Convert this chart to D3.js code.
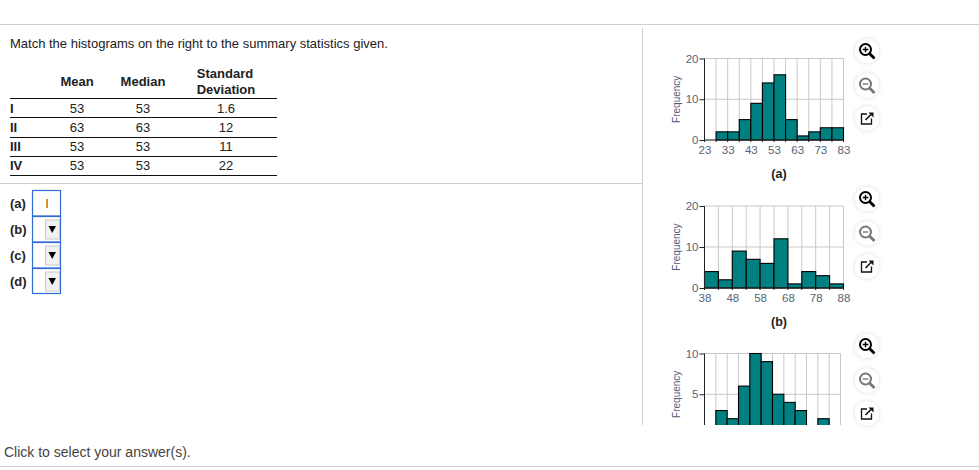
<!DOCTYPE html>
<html><head><meta charset="utf-8">
<script src="https://cdn.jsdelivr.net/npm/d3@7/dist/d3.min.js"></script>
<style>html,body{margin:0;padding:0;background:#fff;overflow:hidden}svg{display:block;font-family:"Liberation Sans",Arial,sans-serif}</style>
</head><body><svg id="c" width="979" height="470"></svg>
<script>
const rowLabels=["I","II","III","IV"];
const means=[53,63,53,53];
const medians=[53,63,53,53];
const stdevs=["1.6","12","11","22"];
const partLabels=["(a)","(b)","(c)","(d)"];
const answers=["I","","",""];
const aStart=23, aValues=[0,2,2,5,9,14,16,5,1,2,3,3], aTicks=[23,33,43,53,63,73,83], aYTicks=[0,10,20];
const bStart=38, bValues=[4,2,9,7,6,12,1,4,3,1], bTicks=[38,48,58,68,78,88], bYTicks=[0,10,20];
const cStart=0, cValues=[0,3,2,6,10,9,5,4,3,0,2,0], cYTicks=[5,10];
const svg=d3.select("#c");
const defs=svg.append("defs");
const fl=defs.append("filter").attr("id","sh").attr("x","-40%").attr("y","-40%").attr("width","180%").attr("height","180%");
fl.append("feDropShadow").attr("dx",0).attr("dy",0).attr("stdDeviation",2).attr("flood-color","#000").attr("flood-opacity",.16);
defs.append("clipPath").attr("id","clipC").append("rect").attr("x",660).attr("y",340).attr("width",230).attr("height",85);
const rule=(x1,y1,x2,y2,c,w=1)=>svg.append("line").attr("x1",x1).attr("y1",y1).attr("x2",x2).attr("y2",y2).attr("stroke",c).attr("stroke-width",w);
const text=(x,y,s,o={})=>svg.append("text").attr("x",x).attr("y",y).text(s).attr("font-size",o.size||13).attr("fill",o.fill||"#222")
  .attr("font-weight",o.bold?"bold":"normal").attr("text-anchor",o.anchor||"start");
// frame
rule(0,24.5,979,24.5,"#ccd0d6"); rule(0,466.5,979,466.5,"#ccd0d6"); rule(642.5,28,642.5,425,"#ccd0d6"); rule(0,183.5,642,183.5,"#ccd0d6");
text(10,48,"Match the histograms on the right to the summary statistics given.");
text(4,457,"Click to select your answer(s).",{size:14,fill:"#444"});
// table
const colX=[77,143,226];
const rowY=[113,132,151,170], ruleY=[98.5,117.5,137.5,156.5,175.5];
text(colX[0],86,"Mean",{bold:true,anchor:"middle"});
text(colX[1],86,"Median",{bold:true,anchor:"middle"});
text(colX[2]-1,78,"Standard",{bold:true,anchor:"middle"});
text(colX[2],94,"Deviation",{bold:true,anchor:"middle"});
ruleY.forEach(y=>rule(10,y,277,y,"#111",1.2));
rowLabels.forEach((r,i)=>{
  text(10,rowY[i],r,{bold:true,size:13});
  text(colX[0],rowY[i],means[i],{anchor:"middle"});
  text(colX[1],rowY[i],medians[i],{anchor:"middle"});
  text(colX[2],rowY[i],stdevs[i],{anchor:"middle"});
});
// answers
partLabels.forEach((p,i)=>{
  const y=191+i*26;
  text(10,y+17,p,{bold:true});
  svg.append("rect").attr("x",32.5).attr("y",y-.5).attr("width",28).attr("height",i==3?25:25.5).attr("fill","#fff").attr("stroke","#2f6bd0").attr("stroke-width",1.2);
  if(answers[i]) text(47,y+17,answers[i],{anchor:"middle",fill:"#a5540f",size:13});
  else{
    svg.append("rect").attr("x",45.5).attr("y",y+3).attr("width",14).attr("height",19).attr("fill","#f1f1f1").attr("stroke","#c8c8c8");
    svg.append("path").attr("d",d3.line()([[48.5,y+9],[56,y+9],[52.2,y+16]])+"Z").attr("fill","#000");
  }
});
// histograms
function hist(o){
  const bins=o.values.length, x=d3.scaleLinear().domain([o.start,o.start+bins*5]).range([o.x0,o.x1]);
  const y=d3.scaleLinear().domain([0,o.ymax]).range([o.y0,o.yt]);
  const g=svg.append("g"); if(o.clip) g.attr("clip-path","url(#clipC)");
  d3.range(bins+1).forEach(i=>g.append("line").attr("x1",x(o.start+i*5)).attr("x2",x(o.start+i*5)).attr("y1",o.yt).attr("y2",o.y0).attr("stroke","#c8c8c8"));
  o.yTicks.forEach(t=>g.append("line").attr("x1",o.x0).attr("x2",o.x1).attr("y1",y(t)).attr("y2",y(t)).attr("stroke","#c8c8c8"));
  g.selectAll("rect.b").data(o.values.map((v,i)=>({v,i})).filter(d=>d.v>0)).join("rect").attr("class","b")
    .attr("x",d=>x(o.start+d.i*5)).attr("width",d=>x(o.start+(d.i+1)*5)-x(o.start+d.i*5))
    .attr("y",d=>y(d.v)).attr("height",d=>o.y0-y(d.v)).attr("fill","#008080").attr("stroke","#000").attr("stroke-width",1.1);
  const ya=d3.axisLeft(y).tickValues(o.yTicks).tickSize(5).tickPadding(1).tickFormat(d3.format("d"));
  const yg=g.append("g").attr("transform",`translate(${o.x0},0)`).call(ya);
  yg.select(".domain").attr("stroke","#222").attr("d",`M0,${o.yt}V${o.y0}`);
  yg.selectAll("line").attr("stroke","#222");
  yg.selectAll("text").attr("fill","#556478").attr("font-size",11.5).attr("font-family","inherit");
  if(o.xTicks){
    const xa=d3.axisBottom(x).tickValues(o.xTicks).tickSize(0).tickPadding(6).tickFormat(d3.format("d"));
    const xg=g.append("g").attr("transform",`translate(0,${o.y0})`).call(xa);
    xg.select(".domain").attr("stroke","#222").attr("d",`M${o.x0},0H${o.x1}`);
    xg.selectAll("text").attr("fill","#556478").attr("font-size",11.5).attr("font-family","inherit");
    g.append("g").attr("transform",`translate(0,${o.y0})`).selectAll("line").data(d3.range(bins+1)).join("line")
      .attr("x1",i=>x(o.start+i*5)).attr("x2",i=>x(o.start+i*5)).attr("y1",0).attr("y2",2).attr("stroke","#222");
    text((o.x0+o.x1)/2+5,o.y0+38,o.label,{bold:true,size:12.5,anchor:"middle"});
  }
  const cy=(o.yt+Math.min(o.y0,o.clip?435:o.y0))/2;
  svg.append("text").attr("transform",`translate(680,${cy}) rotate(-90)`).attr("text-anchor","middle").attr("font-size",10).attr("fill","#5a5a78").text("Frequency");
}
hist({start:aStart,values:aValues,xTicks:aTicks,yTicks:aYTicks,ymax:20,x0:704.5,x1:843.5,y0:140,yt:58.5,label:"(a)"});
hist({start:bStart,values:bValues,xTicks:bTicks,yTicks:bYTicks,ymax:20,x0:704.5,x1:843.5,y0:288,yt:206,label:"(b)"});
hist({start:cStart,values:cValues,yTicks:cYTicks,ymax:10,x0:704.5,x1:840.5,y0:435,yt:353.5,clip:true});
// icons
function icons(x,y0){
  [["#000","+",0],["#777","-",34.5],["#000","e",67.5]].forEach(([c,k,dy])=>{
    const g=svg.append("g").attr("transform",`translate(${x},${y0+dy})`);
    g.append("circle").attr("r",12).attr("fill","#fff").attr("filter","url(#sh)");
    if(k==="e"){
      g.append("path").attr("d","M0,-4.5H-5.5V5.5H4.5V0").attr("fill","none").attr("stroke","#111").attr("stroke-width",1.3);
      g.append("path").attr("d","M-1.5,1.5L4,-4").attr("stroke","#111").attr("stroke-width",1.6);
      g.append("path").attr("d","M1.5,-6H6.5V-1Z").attr("fill","#111");
    }else{
      g.append("circle").attr("cx",-1.5).attr("cy",-1.5).attr("r",5.5).attr("fill","none").attr("stroke",c).attr("stroke-width",2);
      g.append("path").attr("d","M2.5,2.5L7.5,7.5").attr("stroke",c).attr("stroke-width",2.8);
      g.append("path").attr("d",k==="+"?"M-4.3,-1.5H1.3M-1.5,-4.3V1.3":"M-4.3,-1.5H1.3").attr("stroke",c).attr("stroke-width",1.4);
    }
  });
}
icons(867,51);icons(867,199);icons(867,346);
</script></body></html>
